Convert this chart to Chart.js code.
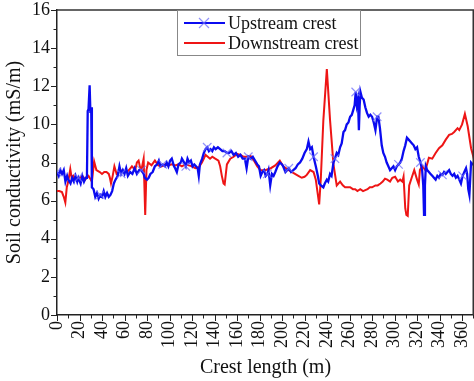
<!DOCTYPE html>
<html>
<head>
<meta charset="utf-8">
<script src="https://cdn.jsdelivr.net/npm/chart.js@4/dist/chart.umd.min.js"></script>
<style>
  html, body { margin: 0; padding: 0; background: #fff; }
  #chart { display: block; }
</style>
</head>
<body>
<canvas id="chart" width="474" height="381"></canvas>
<script>
// Upstream crest (blue) - crest length (m) / conductivity (mS/m)
const upX = [0,1.5,3,4.5,6,7.5,9,10,12,13.5,15,16.5,18,19,21,22.5,24,25.5,26.6,27.3,28,29,29.7,30.4,31,32.5,34,35.5,37,38.5,40,41.5,43,44.5,46,47.5,49,50.5,52,54,55.5,57,58.5,60,61.5,63,65,67,69,71,73,75,77,78,80,81.5,83,85,87,89,90.5,92,94,96,97.5,99,100.5,102,104,105,106.5,108,110,111,113,114.5,116,117.5,119,120.5,122,123.5,125,126,127,129,130.5,132,133.5,135,136.5,138,139.5,141,143,145,147,149,151,153,155,157,159,161,163,165,167,168.5,170,172,174,176,178,179.5,181,182.5,184,185.5,187,188,189.5,191,192.5,194,196,198,200,201,203,204.5,206,208,210,212,214,216,218,220,222,223.5,225,226.5,228,230,231.8,233,234.5,236.7,238,239.8,241,242.7,244,245.7,247,248.6,250,251.6,253,254.6,256,257.5,259,260.5,262,263.5,264.5,265.5,266.5,267.5,268.3,269,269.7,271,272.5,274,275.5,277,278.5,280,281.5,283,284.5,285.6,287,288.6,290,291.5,293,294.5,296,297.5,299,300.5,302,303.5,305,306.5,308,309.5,311,312.5,314,315.5,317,318.5,320,321.5,323,324.5,325.5,326.2,327,327.8,329,330.5,332,333.5,335,336.5,338,339.5,341,342.5,344,345.5,347,348.5,350,351.5,353,354.5,356,357.5,359,360.5,362,363.5,364.5,365.5,366.5,367.3,368,369.5,371];
const upY = [7.5,7.3,7.6,7.4,7.6,7.0,7.3,7.1,6.9,7.2,7.0,7.3,7.0,7.2,6.9,7.3,7.0,7.2,7.2,10.7,10.8,12.05,10.6,10.9,6.7,6.6,6.2,6.4,6.1,6.3,6.2,6.5,6.2,6.4,6.2,6.3,6.5,6.9,7.1,7.3,7.8,7.4,7.6,7.4,7.7,7.3,7.5,7.4,7.7,7.4,7.6,7.6,7.4,7.2,7.1,7.2,7.4,7.5,7.8,7.9,8.1,7.8,7.9,7.8,8.0,7.8,8.1,8.2,7.8,7.7,7.5,7.9,8.0,8.2,8.0,7.8,8.2,8.0,8.1,7.8,7.9,7.8,7.7,7.3,7.9,8.2,8.5,8.7,8.8,8.6,8.7,8.6,8.8,8.7,8.8,8.7,8.6,8.6,8.5,8.5,8.6,8.4,8.5,8.3,8.4,8.2,8.2,7.7,8.3,8.2,8.3,8.1,7.9,7.8,7.3,7.5,7.6,7.3,7.4,7.6,6.8,7.4,7.3,7.5,7.8,8.0,7.9,7.8,7.5,7.6,7.7,7.5,7.6,7.7,7.9,8.0,8.2,8.5,8.7,9.1,8.7,8.8,8.3,7.8,7.3,6.9,6.8,6.7,6.9,7.1,7.0,7.4,7.3,8.0,8.2,8.5,8.4,8.8,9.0,9.6,9.7,10.0,10.1,10.4,10.5,10.8,11.0,11.7,11.0,11.3,9.7,11.0,11.7,11.4,11.3,10.9,10.6,10.4,10.5,10.4,10.1,9.7,10.4,10.4,9.8,8.9,8.5,8.3,8.0,7.8,7.6,7.7,7.8,7.6,7.8,7.9,8.0,8.2,8.6,8.9,9.3,9.2,9.1,9.0,8.9,8.7,8.8,8.3,8.0,7.6,6.8,5.25,6.8,7.8,7.6,7.5,7.4,7.3,7.2,7.1,7.3,7.2,7.4,7.35,7.5,7.4,7.5,7.6,7.4,7.3,7.4,7.2,7.3,7.1,6.9,7.3,7.5,7.7,7.4,6.6,6.3,7.2,8.0,7.9,7.9];

// Downstream crest (red)
const downX = [0,2,4.4,6,7.4,8.7,10,11.8,13,14.5,16,18,20.4,22.5,25,28,31,33,35,38,40,42,44,46,47,48,49.5,51,53,55,58,60,62,64,66.6,68,69.5,71,72.5,74,75,77,78.4,79.5,81,84,87,90,93,96,99,102,105,108,111,114,117,120,123,126,128.8,130.5,132,134,136,138,140.6,143.5,145,146.5,148,149,151,154,157,160,163,166,169,172,175,178,181,185,190,194,198,201,206,210,214.5,217.5,220,222,225,228,230,233,234.5,236.7,239.8,242.7,245.7,248.6,251.6,254,256,260.5,263,265,267,269.5,272,274,276,278,280,283,285,287.5,289.5,291.5,293.5,296,298,300.5,303,305,307,308,309.5,310.5,311.7,313,315.5,317.5,320,321.5,322.5,324.5,327.5,330.5,333.5,336.5,339.5,342.5,345.5,348.5,351,353,356,357.5,360,362.5,365,368,370.5];
const downY = [6.5,6.5,6.45,6.2,5.9,6.7,7.0,7.65,7.2,7.3,7.1,7.2,7.2,7.3,7.1,7.3,7.0,8.05,7.6,7.5,7.4,7.5,7.5,7.4,7.2,6.9,7.3,7.8,7.4,7.5,7.6,7.5,7.5,7.6,7.8,7.7,7.6,8.0,8.1,7.7,7.6,8.2,5.25,7.6,8.0,7.85,8.1,7.85,7.8,7.9,7.85,7.9,7.85,7.9,7.8,7.9,7.85,7.8,7.7,7.75,8.0,8.2,8.4,8.3,8.2,8.3,8.2,8.1,7.8,7.3,6.9,6.85,7.9,8.2,8.3,8.45,8.4,8.3,8.3,8.35,8.1,7.8,7.6,7.6,7.7,7.85,8.1,7.8,7.6,7.45,7.3,7.2,7.25,7.35,7.6,7.5,7.1,5.8,7.2,10.2,12.9,10.2,7.9,6.8,7.0,6.8,6.7,6.7,6.6,6.6,6.5,6.6,6.5,6.55,6.6,6.7,6.7,6.8,6.8,6.9,7.0,7.15,7.1,7.0,7.2,7.25,7.0,7.1,7.0,7.25,5.6,5.25,5.2,6.8,7.25,7.6,7.1,6.85,7.6,7.8,7.6,8.25,8.2,8.5,8.75,8.9,9.2,9.45,9.5,9.6,9.8,9.7,10.0,10.55,9.9,8.75,8.2];

// cross markers on the upstream line
const markerX = [0,19,38,57,76,95,114,133,152,171,187,207,228,247,266,285,304,323,342,361];

const seriesNames = ["Upstream crest", "Downstream crest"];
const upColor = "#0b0bf0";
const downColor = "#ee1515";
const markerColor = "rgba(110,110,250,0.75)";

const markerIdx = new Set(markerX.map(m => {
    let best = 0;
    upX.forEach((v, i) => { if (Math.abs(v - m) < Math.abs(upX[best] - m)) best = i; });
    return best;
}));

const serif = "'Liberation Serif', 'DejaVu Serif', serif";

const frameAndLegend = {
    id: "frameAndLegend",
    afterDraw(chart) {
        const { ctx, chartArea: a, scales: { x, y } } = chart;
        ctx.save();
        // box frame
        ctx.strokeStyle = "#333";
        ctx.lineWidth = 1.5;
        ctx.beginPath();
        ctx.moveTo(a.left, a.top);
        ctx.lineTo(a.right - 0.75, a.top);
        ctx.lineTo(a.right - 0.75, a.bottom);
        ctx.stroke();

        // tick marks
        ctx.strokeStyle = "#222";
        ctx.lineWidth = 1;
        ctx.beginPath();
        for (let v = 0; v <= 370; v += 10) {
            const px = Math.round(x.getPixelForValue(v)) + 0.5;
            ctx.moveTo(px, a.bottom);
            ctx.lineTo(px, a.bottom + (v % 20 === 0 ? 6 : 3.5));
        }
        for (let v = 0; v <= 16; v += 1) {
            const py = Math.round(y.getPixelForValue(v)) + 0.5;
            ctx.moveTo(a.left, py);
            ctx.lineTo(a.left - (v % 2 === 0 ? 6 : 3.5), py);
        }
        ctx.stroke();

        // legend
        const lx = 177, ly = 10, lw = 183, lh = 45;
        ctx.fillStyle = "#fff";
        ctx.fillRect(lx, ly, lw, lh);
        ctx.strokeStyle = "#888";
        ctx.lineWidth = 1;
        ctx.strokeRect(lx + 0.5, ly + 0.5, lw, lh);

        const rows = [23, 43];
        const colors = [upColor, downColor];
        rows.forEach((ry, i) => {
            ctx.strokeStyle = colors[i];
            ctx.lineWidth = 2;
            ctx.beginPath();
            ctx.moveTo(184, ry);
            ctx.lineTo(225, ry);
            ctx.stroke();
            ctx.fillStyle = "#111";
            ctx.font = "18px " + serif;
            ctx.textBaseline = "middle";
            ctx.fillText(seriesNames[i], 228, ry + 1);
        });
        // cross on upstream legend line
        ctx.strokeStyle = markerColor;
        ctx.lineWidth = 1.2;
        ctx.beginPath();
        ctx.moveTo(199, 18); ctx.lineTo(209, 28);
        ctx.moveTo(209, 18); ctx.lineTo(199, 28);
        ctx.stroke();
        ctx.restore();
    }
};

new Chart(document.getElementById("chart"), {
    type: "line",
    data: {
        datasets: [
            {
                label: seriesNames[0],
                data: upX.map((v, i) => ({ x: v, y: upY[i] })),
                borderColor: upColor,
                borderWidth: 2.3,
                tension: 0,
                pointStyle: "crossRot",
                pointRadius: ctx => markerIdx.has(ctx.dataIndex) ? 6 : 0,
                pointBorderColor: markerColor,
                pointBorderWidth: 1.2,
                pointHoverRadius: 0
            },
            {
                label: seriesNames[1],
                data: downX.map((v, i) => ({ x: v, y: downY[i] })),
                borderColor: downColor,
                borderWidth: 2,
                tension: 0,
                pointRadius: 0,
                pointHoverRadius: 0
            }
        ]
    },
    options: {
        responsive: false,
        animation: false,
        devicePixelRatio: 1,
        layout: { autoPadding: false, padding: { top: 10, right: 0, left: 0, bottom: 0 } },
        plugins: {
            legend: { display: false },
            tooltip: { enabled: false }
        },
        scales: {
            x: {
                type: "linear",
                min: 0,
                max: 370.6,
                afterFit: s => { s.height = 66; s.paddingLeft = 0; s.paddingRight = 0; },
                grid: { display: false, drawTicks: false },
                border: { display: true, color: "#222", width: 1.5 },
                ticks: {
                    stepSize: 20,
                    includeBounds: false,
                    autoSkip: false,
                    minRotation: 90,
                    maxRotation: 90,
                    padding: 6,
                    color: "#111",
                    font: { family: serif, size: 18 }
                },
                title: {
                    display: true,
                    text: "Crest length (m)",
                    color: "#111",
                    font: { family: serif, size: 20 },
                    padding: { top: 0, bottom: 1 }
                }
            },
            y: {
                min: 0,
                max: 16,
                afterFit: s => { s.width = 57; s.paddingTop = 0; s.paddingBottom = 0; },
                grid: { display: false, drawTicks: false },
                border: { display: true, color: "#222", width: 1.5 },
                ticks: {
                    stepSize: 2,
                    padding: 7,
                    color: "#111",
                    font: { family: serif, size: 18 }
                },
                title: {
                    display: true,
                    text: "Soil conductivity (mS/m)",
                    color: "#111",
                    font: { family: serif, size: 20 },
                    padding: { top: 3, bottom: 0 }
                }
            }
        }
    },
    plugins: [frameAndLegend]
});
</script>
</body>
</html>
